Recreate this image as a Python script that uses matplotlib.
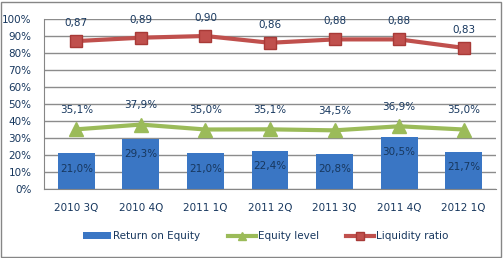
import numpy as np
import matplotlib.pyplot as plt
from matplotlib.patches import Rectangle
from matplotlib.ticker import FuncFormatter

quarters = ['2010 3Q', '2010 4Q', '2011 1Q', '2011 2Q', '2011 3Q', '2011 4Q', '2012 1Q']
roe = [21.0, 29.3, 21.0, 22.4, 20.8, 30.5, 21.7]
equity = [35.1, 37.9, 35.0, 35.1, 34.5, 36.9, 35.0]
liquidity = [0.87, 0.89, 0.90, 0.86, 0.88, 0.88, 0.83]

txt = '#17375E'
blue = '#3A76C4'
green = '#9BBB59'
red = '#C0504D'
fs = 7.5

def pct(v):
    return ('%.1f%%' % v).replace('.', ',')

fig = plt.figure(figsize=(5.03, 2.58), dpi=100)
ax = fig.add_axes([44 / 503, 1 - 189 / 258, 452 / 503, 170 / 258])

x = np.arange(len(quarters))
b = ax.bar(x, roe, width=0.57, color=blue, zorder=2, label='Return on Equity')
g, = ax.plot(x, equity, color=green, lw=3, marker='^', ms=10, zorder=3, label='Equity level')
r, = ax.plot(x, [v * 100 for v in liquidity], color=red, lw=3, marker='s', ms=9,
             markeredgecolor='#A83A37', zorder=4, label='Liquidity ratio')

for i in x:
    ax.annotate(pct(roe[i]), (i, roe[i]), xytext=(0, -11), textcoords='offset points',
                ha='center', va='center', fontsize=fs, color=txt, zorder=5)
    ax.annotate(pct(equity[i]), (i, equity[i]), xytext=(0, 14), textcoords='offset points',
                ha='center', va='center', fontsize=fs, color=txt, zorder=5)
    ax.annotate(('%.2f' % liquidity[i]).replace('.', ','), (i, liquidity[i] * 100),
                xytext=(0, 13), textcoords='offset points',
                ha='center', va='center', fontsize=fs, color=txt, zorder=5)

ax.set_xlim(-0.5, len(quarters) - 0.5)
ax.set_ylim(0, 100)
ax.set_yticks(range(0, 101, 10))
ax.yaxis.set_major_formatter(FuncFormatter(lambda v, p: '%d%%' % v))
ax.set_xticks(x)
ax.set_xticklabels(quarters)
ax.tick_params(axis='both', colors='#868686', labelcolor=txt, labelsize=fs, length=0)
ax.tick_params(axis='x', pad=10)
ax.tick_params(axis='y', pad=9)
ax.grid(axis='y', color='#8C8C8C', lw=1, zorder=0)
for s in ['top', 'right']:
    ax.spines[s].set_visible(False)
for s in ['left', 'bottom']:
    ax.spines[s].set_color('#868686')

fig.legend([b, g, r], ['Return on Equity', 'Equity level', 'Liquidity ratio'],
           loc='center', bbox_to_anchor=(266 / 503, 1 - 236 / 258), ncol=3, frameon=False,
           fontsize=fs, labelcolor=txt, handlelength=2.7, handleheight=0.6,
           columnspacing=2.6, handletextpad=0.2, markerscale=0.6)

fig.patches.append(Rectangle((0.002, 0.004), 0.995, 0.99, transform=fig.transFigure,
                             fill=False, edgecolor='#868686', lw=1))

fig.savefig('out.png', dpi=100)
